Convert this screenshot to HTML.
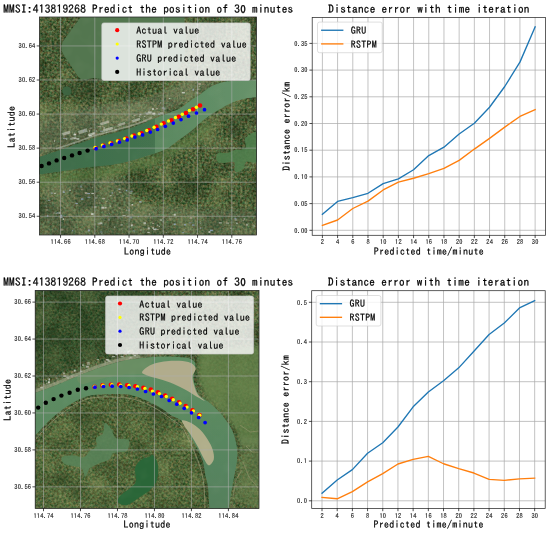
<!DOCTYPE html>
<html lang="en"><head><meta charset="utf-8"><title>Trajectory prediction</title>
<style>html,body{margin:0;padding:0;background:#fff}svg{display:block}text{font-family:IPAGothic, 'Noto Sans Mono CJK SC', 'Liberation Mono', monospace;}</style>
</head><body>
<svg width="550" height="535" viewBox="0 0 550 535">
<defs>
<filter id="land" x="0" y="0" width="100%" height="100%" color-interpolation-filters="sRGB">
<feTurbulence type="fractalNoise" baseFrequency="0.42" numOctaves="2" seed="3"/>
<feColorMatrix type="matrix" values="0.5 0.3 0 0 -0.1  0.5 -0.05 0 0 0.145  0.4 0 0.1 0 -0.035  0 0 0 0 1"/>
</filter>
<filter id="land2" x="0" y="0" width="100%" height="100%" color-interpolation-filters="sRGB">
<feTurbulence type="fractalNoise" baseFrequency="0.42" numOctaves="2" seed="21"/>
<feColorMatrix type="matrix" values="0.5 0.3 0 0 -0.1  0.5 -0.05 0 0 0.145  0.4 0 0.1 0 -0.035  0 0 0 0 1"/>
</filter>
<filter id="lfd" x="0" y="0" width="100%" height="100%" color-interpolation-filters="sRGB">
<feTurbulence type="fractalNoise" baseFrequency="0.04" numOctaves="2" seed="9"/>
<feColorMatrix type="matrix" values="0 0 0 0 0.05  0 0 0 0 0.12  0 0 0 0 0.04  2.2 0 0 0 -1.1"/>
</filter>
<filter id="lfl" x="0" y="0" width="100%" height="100%" color-interpolation-filters="sRGB">
<feTurbulence type="fractalNoise" baseFrequency="0.04" numOctaves="2" seed="9"/>
<feColorMatrix type="matrix" values="0 0 0 0 0.62  0 0 0 0 0.66  0 0 0 0 0.42  -2.2 0 0 0 1.1"/>
</filter>
<filter id="wn" x="0" y="0" width="100%" height="100%" color-interpolation-filters="sRGB">
<feTurbulence type="fractalNoise" baseFrequency="0.08" numOctaves="2" seed="5"/>
<feColorMatrix type="matrix" values="0 0 0 0 1  0 0 0 0 1  0 0 0 0 0.9  1.2 0 0 0 -0.5"/>
</filter>
<filter id="b05"><feGaussianBlur stdDeviation="0.5"/></filter>
<filter id="b1"><feGaussianBlur stdDeviation="1"/></filter>
<filter id="b2"><feGaussianBlur stdDeviation="2.2"/></filter>
<filter id="b4"><feGaussianBlur stdDeviation="4"/></filter>
<linearGradient id="rv1" gradientUnits="userSpaceOnUse" x1="40" y1="0" x2="256" y2="0">
<stop offset="0" stop-color="#3e6c4a"/><stop offset="0.53" stop-color="#44734f"/><stop offset="0.534" stop-color="#5a8860"/><stop offset="1" stop-color="#67926a"/>
</linearGradient>
<linearGradient id="rv2" gradientUnits="userSpaceOnUse" x1="0" y1="355" x2="0" y2="508"><stop offset="0" stop-color="#5f8f64"/><stop offset="1" stop-color="#54805c"/></linearGradient>

<clipPath id="c1"><rect x="39.5" y="17" width="217" height="218"/></clipPath>
<clipPath id="c2"><rect x="35.2" y="290.4" width="223.8" height="218"/></clipPath>
</defs>
<rect width="550" height="535" fill="#fff"/>
<g clip-path="url(#c1)">
<rect x="39.5" y="17" width="217" height="218" fill="#445a34"/>
<rect x="39.5" y="17" width="217" height="218" filter="url(#land)"/>
<rect x="39.5" y="17" width="217" height="218" filter="url(#lfd)" opacity="0.55"/>
<rect x="39.5" y="17" width="217" height="218" filter="url(#lfl)" opacity="0.5"/>
<g filter="url(#b2)">
<polygon points="36.0,120.0 90.0,106.0 150.0,98.0 195.0,76.0 218.0,84.0 150.0,122.0 93.0,138.0 36.0,158.0" fill="#8c927a" opacity="0.3"/>
<polygon points="45.0,182.0 125.0,178.0 135.0,205.0 256.0,210.0 256.0,236.0 36.0,236.0" fill="#7d8570" opacity="0.25"/>
<polygon points="36.0,176.0 90.0,168.0 130.0,162.0 150.0,156.0 190.0,134.0 205.0,121.0 214.0,126.0 192.0,146.0 150.0,168.0 93.0,180.0 36.0,187.0" fill="#5f8448" opacity="0.5"/>
</g>
<g filter="url(#b05)">
<polygon points="83.0,14.0 62.9,41.5 61.4,46.0 61.6,51.0 65.0,57.0 68.8,62.3 74.0,70.5 78.1,76.7 81.0,79.0 85.3,79.8 93.5,77.9 99.7,78.7 125.0,82.0 160.0,80.0 176.0,72.0 184.0,58.0 186.0,40.0 184.0,14.0" fill="#527650" />
<circle cx="66.8" cy="91" r="4.6" fill="#3c6440"/>
<path d="M246.4,137.0C248.6,135.7 256.1,129.1 258.0,133.0C259.9,136.9 259.9,155.7 258.0,160.5C256.1,165.3 248.8,160.5 246.4,161.8C244.0,163.1 245.3,166.7 243.8,168.4C242.3,170.2 238.7,172.1 237.2,172.3C235.7,172.5 235.0,171.2 234.6,169.7C234.2,168.2 235.2,164.4 234.6,163.1C233.9,161.8 232.4,161.8 230.7,161.8C228.9,161.8 226.3,163.1 224.1,163.1C221.9,163.1 218.9,162.9 217.6,161.8C216.3,160.7 216.1,158.1 216.3,156.6C216.5,155.1 216.9,153.3 218.9,152.7C220.9,152.0 225.5,153.1 228.1,152.7C230.7,152.3 232.4,150.6 234.6,150.1C236.8,149.6 239.2,149.8 241.1,149.4C242.9,149.0 245.0,148.9 245.7,147.5C246.4,146.1 245.0,142.7 245.1,140.9C245.2,139.2 244.2,138.3 246.4,137.0Z" fill="#50804e" opacity="0.88"/>
<path d="M36.0,158.2C40.0,156.8 50.4,153.3 60.0,150.0C69.6,146.7 83.5,141.5 93.5,138.4C103.5,135.3 112.3,133.7 120.0,131.5C127.7,129.3 133.6,127.2 139.4,125.1C145.2,122.9 149.6,120.7 154.7,118.6C159.8,116.5 165.8,114.2 170.0,112.5C174.2,110.8 176.7,110.2 180.0,108.3C183.3,106.4 186.7,103.3 190.0,101.0C193.3,98.7 197.3,96.3 200.0,94.5C202.7,92.7 203.8,91.5 206.0,90.0C208.2,88.5 210.8,86.6 213.5,85.3C216.2,84.0 218.8,83.0 222.4,82.2C226.0,81.5 228.7,81.2 235.0,80.8C241.3,80.4 255.8,80.1 260.0,80.0L260,96.8" fill="none"/>
<path d="M36.0,158.2C40.0,156.8 50.4,153.3 60.0,150.0C69.6,146.7 83.5,141.5 93.5,138.4C103.5,135.3 112.3,133.7 120.0,131.5C127.7,129.3 133.6,127.2 139.4,125.1C145.2,122.9 149.6,120.7 154.7,118.6C159.8,116.5 165.8,114.2 170.0,112.5C174.2,110.8 176.7,110.2 180.0,108.3C183.3,106.4 186.7,103.3 190.0,101.0C193.3,98.7 197.3,96.3 200.0,94.5C202.7,92.7 203.8,91.5 206.0,90.0C208.2,88.5 210.8,86.6 213.5,85.3C216.2,84.0 218.8,83.0 222.4,82.2C226.0,81.5 228.7,81.2 235.0,80.8C241.3,80.4 255.8,80.1 260.0,80.0L260.0,96.8C257.5,97.1 249.4,97.8 245.0,98.7C240.6,99.6 237.4,100.5 233.6,102.1C229.8,103.6 225.7,105.9 222.0,108.0C218.3,110.1 214.9,112.0 211.2,114.5C207.5,117.0 203.2,120.2 200.0,122.9C196.8,125.6 195.2,127.7 191.8,130.4C188.4,133.1 183.4,136.6 179.8,139.3C176.2,142.0 172.8,144.8 170.0,146.7C167.2,148.5 166.3,148.9 162.7,150.4C159.1,151.9 153.8,153.7 148.2,155.5C142.6,157.3 135.4,159.7 129.3,161.3C123.2,162.9 118.3,163.9 111.8,164.9C105.2,165.9 98.6,166.0 90.0,167.1C81.4,168.2 69.0,170.2 60.0,171.5C51.0,172.8 40.0,174.4 36.0,175.0Z" fill="url(#rv1)"/>
</g>
<path d="M56.0,148.8C59.2,147.8 68.8,144.6 75.0,142.5C81.2,140.4 87.7,137.8 93.5,136.0C99.3,134.2 104.8,132.9 110.0,131.5C115.2,130.1 120.0,128.9 125.0,127.5C130.0,126.0 135.5,124.5 140.0,122.8C144.5,121.1 150.0,118.5 152.0,117.6" fill="none" stroke="#b4b8a8" stroke-width="1.7" opacity="0.55"/>
<rect x="62" y="133" width="8" height="3" fill="#cfd2c8" opacity="0.6" transform="rotate(-17 62 133)"/>
<rect x="78" y="131" width="9" height="3.5" fill="#c2c6ba" opacity="0.6" transform="rotate(-17 78 131)"/>
<rect x="88" y="134" width="7" height="2.5" fill="#d9dbd2" opacity="0.6" transform="rotate(-17 88 134)"/>
<rect x="100" y="123" width="9" height="2.5" fill="#c9ccc0" opacity="0.6" transform="rotate(-17 100 123)"/>
<rect x="103" y="129.5" width="10" height="2.5" fill="#d2d5ca" opacity="0.6" transform="rotate(-17 103 129.5)"/>
<rect x="118" y="124" width="7" height="2.5" fill="#c4c8bc" opacity="0.6" transform="rotate(-17 118 124)"/>
<rect x="132" y="120" width="8" height="2.5" fill="#cdd0c4" opacity="0.6" transform="rotate(-17 132 120)"/>
<rect x="70" y="138" width="6" height="2" fill="#b7bbb0" opacity="0.6" transform="rotate(-17 70 138)"/>
<rect x="146" y="113" width="6" height="2" fill="#c4c8bc" opacity="0.6" transform="rotate(-17 146 113)"/>
<rect x="144.7" y="112.5" width="3" height="1" fill="#9aa6b4" opacity="0.55"/>
<rect x="148.8" y="109.2" width="1" height="1.5" fill="#9aa6b4" opacity="0.55"/>
<rect x="105.9" y="131.8" width="1.5" height="1" fill="#b9bdb0" opacity="0.7"/>
<rect x="89.7" y="127.6" width="2.5" height="1" fill="#c9cdc4" opacity="0.55"/>
<rect x="143.9" y="116.0" width="1.5" height="1" fill="#c9cdc4" opacity="0.55"/>
<rect x="168.8" y="98.1" width="1.5" height="1" fill="#d8d9d2" opacity="0.7"/>
<rect x="198.8" y="85.8" width="1.5" height="1" fill="#b9bdb0" opacity="0.7"/>
<rect x="92.8" y="132.7" width="1.5" height="1" fill="#d8d9d2" opacity="0.55"/>
<rect x="98.1" y="126.1" width="3" height="1" fill="#a89f8c" opacity="0.85"/>
<rect x="158.2" y="113.4" width="2" height="1.5" fill="#9aa6b4" opacity="0.85"/>
<rect x="95.5" y="130.5" width="1.5" height="1" fill="#d8d9d2" opacity="0.55"/>
<rect x="196.9" y="88.9" width="2.5" height="1" fill="#a89f8c" opacity="0.7"/>
<rect x="103.6" y="127.2" width="1" height="2" fill="#c9cdc4" opacity="0.85"/>
<rect x="73.9" y="132.7" width="1.5" height="1" fill="#b9bdb0" opacity="0.7"/>
<rect x="100.1" y="130.7" width="3" height="1.5" fill="#9aa6b4" opacity="0.55"/>
<rect x="139.4" y="113.8" width="2" height="1.5" fill="#c9cdc4" opacity="0.7"/>
<rect x="196.3" y="92.2" width="2" height="1.5" fill="#b9bdb0" opacity="0.7"/>
<rect x="89.1" y="130.2" width="1" height="1.5" fill="#d8d9d2" opacity="0.7"/>
<rect x="73.4" y="142.5" width="1.5" height="1.5" fill="#9aa6b4" opacity="0.55"/>
<rect x="160.2" y="112.2" width="3" height="2" fill="#c9cdc4" opacity="0.55"/>
<rect x="163.5" y="107.6" width="2" height="2" fill="#9aa6b4" opacity="0.55"/>
<rect x="53.9" y="140.0" width="1" height="2" fill="#d8d9d2" opacity="0.55"/>
<rect x="65.9" y="137.9" width="1.5" height="2" fill="#c9cdc4" opacity="0.55"/>
<rect x="114.5" y="128.9" width="2.5" height="1.5" fill="#b9bdb0" opacity="0.7"/>
<rect x="192.5" y="88.7" width="1.5" height="2" fill="#9aa6b4" opacity="0.85"/>
<rect x="161.7" y="107.1" width="2" height="2" fill="#9aa6b4" opacity="0.55"/>
<rect x="63.0" y="137.9" width="3" height="1" fill="#9aa6b4" opacity="0.7"/>
<rect x="73.8" y="137.8" width="3" height="1.5" fill="#c9cdc4" opacity="0.7"/>
<rect x="156.1" y="107.9" width="2" height="1.5" fill="#a89f8c" opacity="0.85"/>
<rect x="151.9" y="108.3" width="2" height="1.5" fill="#d8d9d2" opacity="0.85"/>
<rect x="73.6" y="133.9" width="2.5" height="1.5" fill="#d8d9d2" opacity="0.85"/>
<rect x="88.8" y="134.9" width="3" height="1.5" fill="#d8d9d2" opacity="0.7"/>
<rect x="148.1" y="111.4" width="2.5" height="1.5" fill="#b9bdb0" opacity="0.85"/>
<rect x="117.0" y="125.8" width="2" height="1" fill="#a89f8c" opacity="0.55"/>
<rect x="76.8" y="138.2" width="2.5" height="1.5" fill="#c9cdc4" opacity="0.85"/>
<rect x="152.3" y="112.6" width="3" height="2" fill="#d8d9d2" opacity="0.85"/>
<rect x="133.5" y="114.9" width="2" height="1" fill="#b9bdb0" opacity="0.55"/>
<rect x="138.8" y="115.7" width="1.5" height="1" fill="#b9bdb0" opacity="0.85"/>
<rect x="160.0" y="102.4" width="1.5" height="1" fill="#c9cdc4" opacity="0.55"/>
<rect x="62.7" y="136.4" width="2.5" height="1" fill="#a89f8c" opacity="0.55"/>
<rect x="111.5" y="127.5" width="3" height="1" fill="#a89f8c" opacity="0.55"/>
<rect x="83.1" y="130.1" width="1" height="1.5" fill="#9aa6b4" opacity="0.7"/>
<rect x="181.9" y="91.9" width="3" height="1.5" fill="#c9cdc4" opacity="0.85"/>
<rect x="143.2" y="120.1" width="3" height="1.5" fill="#a89f8c" opacity="0.7"/>
<rect x="198.3" y="83.0" width="2.5" height="2" fill="#a89f8c" opacity="0.85"/>
<rect x="120.4" y="224.1" width="2.5" height="1.5" fill="#b9bdb0" opacity="0.55"/>
<rect x="58.8" y="212.3" width="2" height="1.5" fill="#b9bdb0" opacity="0.7"/>
<rect x="91.4" y="192.9" width="2.5" height="1" fill="#c9cdc4" opacity="0.85"/>
<rect x="97.6" y="223.3" width="2" height="1" fill="#9aa6b4" opacity="0.7"/>
<rect x="139.1" y="201.1" width="2.5" height="1.5" fill="#9aa6b4" opacity="0.85"/>
<rect x="53.9" y="192.9" width="2" height="1" fill="#b9bdb0" opacity="0.85"/>
<rect x="130.8" y="224.4" width="2" height="2" fill="#c9cdc4" opacity="0.85"/>
<rect x="99.7" y="231.5" width="3" height="1" fill="#8fa3bd" opacity="0.55"/>
<rect x="102.2" y="198.2" width="3" height="1" fill="#b9bdb0" opacity="0.85"/>
<rect x="128.6" y="209.3" width="1" height="1.5" fill="#8fa3bd" opacity="0.85"/>
<rect x="63.6" y="207.2" width="1.5" height="1" fill="#a89f8c" opacity="0.55"/>
<rect x="62.9" y="191.5" width="2" height="1.5" fill="#8fa3bd" opacity="0.7"/>
<rect x="95.1" y="197.5" width="2.5" height="1" fill="#c9cdc4" opacity="0.7"/>
<rect x="101.4" y="232.9" width="1" height="2" fill="#c9cdc4" opacity="0.55"/>
<rect x="129.8" y="216.5" width="2.5" height="2" fill="#9aa6b4" opacity="0.55"/>
<rect x="94.1" y="206.5" width="2.5" height="1" fill="#c9cdc4" opacity="0.85"/>
<rect x="109.6" y="205.6" width="1.5" height="1" fill="#b9bdb0" opacity="0.85"/>
<rect x="56.7" y="212.5" width="2" height="1" fill="#8fa3bd" opacity="0.85"/>
<rect x="87.9" y="229.4" width="2" height="2" fill="#9aa6b4" opacity="0.85"/>
<rect x="91.1" y="213.1" width="2.5" height="2" fill="#c9cdc4" opacity="0.85"/>
<rect x="80.9" y="198.3" width="2.5" height="1.5" fill="#8fa3bd" opacity="0.85"/>
<rect x="60.5" y="228.7" width="3" height="2" fill="#a89f8c" opacity="0.7"/>
<rect x="75.4" y="202.9" width="2.5" height="1" fill="#8fa3bd" opacity="0.85"/>
<rect x="45.6" y="205.5" width="1" height="1" fill="#b9bdb0" opacity="0.85"/>
<rect x="118.5" y="188.6" width="2" height="1.5" fill="#9aa6b4" opacity="0.85"/>
<rect x="50.9" y="192.6" width="2" height="1" fill="#9aa6b4" opacity="0.85"/>
<rect x="91.7" y="206.4" width="1" height="1.5" fill="#8fa3bd" opacity="0.55"/>
<rect x="109.7" y="195.2" width="2" height="1" fill="#b9bdb0" opacity="0.85"/>
<rect x="108.5" y="218.7" width="1" height="2" fill="#9aa6b4" opacity="0.85"/>
<rect x="130.5" y="214.5" width="3" height="1" fill="#a89f8c" opacity="0.55"/>
<rect x="60.3" y="214.6" width="2" height="2" fill="#9aa6b4" opacity="0.85"/>
<rect x="46.9" y="214.9" width="1.5" height="2" fill="#9aa6b4" opacity="0.7"/>
<rect x="87.5" y="196.8" width="3" height="1" fill="#8fa3bd" opacity="0.7"/>
<rect x="72.2" y="230.0" width="1" height="1.5" fill="#8fa3bd" opacity="0.7"/>
<rect x="136.8" y="204.5" width="2" height="1" fill="#b9bdb0" opacity="0.55"/>
<rect x="122.6" y="214.9" width="3" height="1" fill="#c9cdc4" opacity="0.7"/>
<rect x="80.2" y="185.6" width="1.5" height="2" fill="#8fa3bd" opacity="0.55"/>
<rect x="60.0" y="216.8" width="2.5" height="1" fill="#9aa6b4" opacity="0.85"/>
<rect x="92.0" y="186.8" width="1" height="1.5" fill="#a89f8c" opacity="0.55"/>
<rect x="62.6" y="218.4" width="1.5" height="1.5" fill="#c9cdc4" opacity="0.85"/>
<rect x="99.0" y="202.4" width="1.5" height="1" fill="#a89f8c" opacity="0.85"/>
<rect x="131.5" y="204.0" width="1.5" height="1.5" fill="#c9cdc4" opacity="0.85"/>
<rect x="99.4" y="222.3" width="3" height="2" fill="#c9cdc4" opacity="0.7"/>
<rect x="126.2" y="209.3" width="1" height="2" fill="#a89f8c" opacity="0.85"/>
<rect x="125.8" y="189.8" width="1.5" height="1.5" fill="#8fa3bd" opacity="0.85"/>
<rect x="62.6" y="190.5" width="1.5" height="2" fill="#b9bdb0" opacity="0.55"/>
<rect x="46.2" y="206.6" width="1" height="1" fill="#a89f8c" opacity="0.55"/>
<rect x="109.0" y="212.8" width="1" height="1" fill="#9aa6b4" opacity="0.55"/>
<rect x="117.5" y="217.4" width="2" height="1" fill="#9aa6b4" opacity="0.55"/>
<rect x="113.8" y="226.2" width="1.5" height="2" fill="#b9bdb0" opacity="0.55"/>
<rect x="111.7" y="191.9" width="1" height="2" fill="#8fa3bd" opacity="0.7"/>
<rect x="87.1" y="193.1" width="3" height="1" fill="#8fa3bd" opacity="0.85"/>
<rect x="46.2" y="209.4" width="2" height="1" fill="#a89f8c" opacity="0.85"/>
<rect x="106.3" y="201.1" width="1" height="1" fill="#b9bdb0" opacity="0.7"/>
<rect x="132.5" y="230.4" width="2.5" height="1" fill="#8fa3bd" opacity="0.55"/>
<rect x="47.9" y="199.8" width="2.5" height="1" fill="#9aa6b4" opacity="0.7"/>
<rect x="53.3" y="212.5" width="2" height="1" fill="#c9cdc4" opacity="0.55"/>
<rect x="84.8" y="192.1" width="2.5" height="2" fill="#a89f8c" opacity="0.85"/>
<rect x="104.6" y="207.0" width="2" height="1.5" fill="#c9cdc4" opacity="0.7"/>
<rect x="129.4" y="192.6" width="2.5" height="1" fill="#c9cdc4" opacity="0.85"/>
<rect x="55.3" y="229.4" width="1" height="1" fill="#b9bdb0" opacity="0.55"/>
<rect x="101.3" y="206.7" width="3" height="2" fill="#c9cdc4" opacity="0.85"/>
<rect x="130.4" y="190.7" width="2.5" height="1" fill="#8fa3bd" opacity="0.7"/>
<rect x="68.9" y="189.6" width="2" height="1.5" fill="#c9cdc4" opacity="0.55"/>
<rect x="119.1" y="191.8" width="2.5" height="1" fill="#b9bdb0" opacity="0.55"/>
<rect x="81.1" y="189.3" width="1.5" height="1" fill="#a89f8c" opacity="0.85"/>
<rect x="118.8" y="207.4" width="2" height="1.5" fill="#a89f8c" opacity="0.7"/>
<rect x="127.4" y="215.5" width="1" height="1.5" fill="#c9cdc4" opacity="0.55"/>
<rect x="55.4" y="213.2" width="1.5" height="1" fill="#b9bdb0" opacity="0.55"/>
<rect x="138.1" y="216.2" width="1" height="1" fill="#8fa3bd" opacity="0.7"/>
<rect x="165.8" y="232.2" width="1.5" height="1" fill="#b9bdb0" opacity="0.55"/>
<rect x="155.6" y="229.0" width="3" height="1" fill="#a89f8c" opacity="0.85"/>
<rect x="143.5" y="222.2" width="2.5" height="2" fill="#c9cdc4" opacity="0.7"/>
<rect x="150.2" y="216.9" width="1" height="1.5" fill="#a89f8c" opacity="0.7"/>
<rect x="242.8" y="220.0" width="1" height="1.5" fill="#b9bdb0" opacity="0.55"/>
<rect x="184.0" y="229.4" width="1" height="1" fill="#8fa3bd" opacity="0.55"/>
<rect x="218.8" y="222.4" width="3" height="1" fill="#c9cdc4" opacity="0.85"/>
<rect x="147.3" y="231.9" width="2.5" height="1" fill="#c9cdc4" opacity="0.85"/>
<rect x="192.0" y="224.3" width="2.5" height="1.5" fill="#8fa3bd" opacity="0.7"/>
<rect x="155.4" y="228.1" width="1" height="1.5" fill="#8fa3bd" opacity="0.85"/>
<rect x="236.2" y="222.6" width="1.5" height="1.5" fill="#c9cdc4" opacity="0.7"/>
<rect x="200.3" y="222.7" width="1" height="1" fill="#8fa3bd" opacity="0.55"/>
<rect x="243.5" y="218.2" width="1.5" height="1.5" fill="#b9bdb0" opacity="0.7"/>
<rect x="169.0" y="218.3" width="2.5" height="1" fill="#a89f8c" opacity="0.55"/>
<rect x="158.9" y="225.9" width="1" height="1" fill="#c9cdc4" opacity="0.7"/>
<rect x="153.3" y="228.7" width="2.5" height="1.5" fill="#c9cdc4" opacity="0.85"/>
<rect x="189.7" y="216.9" width="2.5" height="2" fill="#a89f8c" opacity="0.7"/>
<rect x="149.1" y="213.5" width="1" height="1" fill="#b9bdb0" opacity="0.85"/>
<rect x="152.1" y="222.9" width="2" height="1" fill="#a89f8c" opacity="0.85"/>
<rect x="156.9" y="224.7" width="1.5" height="1" fill="#c9cdc4" opacity="0.7"/>
<rect x="184.0" y="224.0" width="2" height="1.5" fill="#8fa3bd" opacity="0.7"/>
<rect x="140.3" y="229.5" width="1.5" height="1" fill="#b9bdb0" opacity="0.85"/>
<rect x="159.6" y="219.1" width="2.5" height="2" fill="#b9bdb0" opacity="0.55"/>
<rect x="162.9" y="216.7" width="2.5" height="1" fill="#a89f8c" opacity="0.55"/>
<rect x="152.4" y="227.1" width="1.5" height="2" fill="#b9bdb0" opacity="0.85"/>
<rect x="245.9" y="223.8" width="2" height="2" fill="#c9cdc4" opacity="0.55"/>
<rect x="162.5" y="221.4" width="1" height="1" fill="#b9bdb0" opacity="0.85"/>
<rect x="208.5" y="231.0" width="2" height="2" fill="#b9bdb0" opacity="0.85"/>
<rect x="226.1" y="222.6" width="3" height="1" fill="#c9cdc4" opacity="0.7"/>
<rect x="199.9" y="227.6" width="1.5" height="1" fill="#8fa3bd" opacity="0.85"/>
<rect x="173.8" y="213.7" width="2" height="2" fill="#c9cdc4" opacity="0.85"/>
<rect x="173.8" y="223.5" width="2" height="1.5" fill="#8fa3bd" opacity="0.85"/>
<rect x="234.8" y="219.5" width="2" height="1" fill="#c9cdc4" opacity="0.7"/>
<rect x="182.2" y="232.1" width="2" height="1" fill="#8fa3bd" opacity="0.7"/>
<rect x="209.9" y="229.7" width="3" height="1.5" fill="#8fa3bd" opacity="0.85"/>
<rect x="188.7" y="222.3" width="3" height="1" fill="#8fa3bd" opacity="0.55"/>
<rect x="147.8" y="227.4" width="2" height="2" fill="#b9bdb0" opacity="0.85"/>
<rect x="234.5" y="217.8" width="2" height="1.5" fill="#8fa3bd" opacity="0.7"/>
<rect x="253.5" y="225.3" width="1.5" height="1.5" fill="#c9cdc4" opacity="0.55"/>
<rect x="230.1" y="227.7" width="1.5" height="1" fill="#c9cdc4" opacity="0.7"/>
<rect x="39.5" y="17" width="217" height="218" filter="url(#wn)" opacity="0.06"/>
</g>
<path d="M60.56,17V235M39.5,45.93H256.5M94.81,17V235M39.5,80.00H256.5M129.06,17V235M39.5,114.07H256.5M163.31,17V235M39.5,148.14H256.5M197.56,17V235M39.5,182.21H256.5M231.81,17V235M39.5,216.28H256.5" stroke="#b0b0b0" stroke-width="0.8" stroke-opacity="0.68" fill="none"/>
<g clip-path="url(#c1)">
<circle cx="41.6" cy="166.0" r="2.2" fill="#000"/>
<circle cx="49.0" cy="163.4" r="2.2" fill="#000"/>
<circle cx="56.6" cy="160.4" r="2.2" fill="#000"/>
<circle cx="64.2" cy="158.0" r="2.2" fill="#000"/>
<circle cx="72.0" cy="155.4" r="2.2" fill="#000"/>
<circle cx="79.6" cy="153.0" r="2.2" fill="#000"/>
<circle cx="87.6" cy="150.6" r="2.2" fill="#000"/>
<circle cx="95.6" cy="148.0" r="2.3" fill="#f00"/>
<circle cx="103.3" cy="145.5" r="2.3" fill="#f00"/>
<circle cx="110.9" cy="143.3" r="2.3" fill="#f00"/>
<circle cx="118.6" cy="141.0" r="2.3" fill="#f00"/>
<circle cx="126.3" cy="138.5" r="2.3" fill="#f00"/>
<circle cx="133.9" cy="135.6" r="2.3" fill="#f00"/>
<circle cx="141.4" cy="133.2" r="2.3" fill="#f00"/>
<circle cx="149.0" cy="130.3" r="2.3" fill="#f00"/>
<circle cx="156.4" cy="126.9" r="2.3" fill="#f00"/>
<circle cx="163.6" cy="123.3" r="2.3" fill="#f00"/>
<circle cx="171.4" cy="120.3" r="2.3" fill="#f00"/>
<circle cx="178.7" cy="116.7" r="2.3" fill="#f00"/>
<circle cx="185.9" cy="113.0" r="2.3" fill="#f00"/>
<circle cx="193.1" cy="109.2" r="2.3" fill="#f00"/>
<circle cx="200.0" cy="105.5" r="2.3" fill="#f00"/>
<circle cx="95.1" cy="147.4" r="1.7" fill="#ff0"/>
<circle cx="102.4" cy="145.1" r="1.7" fill="#ff0"/>
<circle cx="110.0" cy="142.9" r="1.7" fill="#ff0"/>
<circle cx="117.4" cy="141.0" r="1.7" fill="#ff0"/>
<circle cx="124.6" cy="138.6" r="1.7" fill="#ff0"/>
<circle cx="131.9" cy="136.0" r="1.7" fill="#ff0"/>
<circle cx="139.2" cy="133.8" r="1.7" fill="#ff0"/>
<circle cx="146.8" cy="130.5" r="1.7" fill="#ff0"/>
<circle cx="154.1" cy="127.3" r="1.7" fill="#ff0"/>
<circle cx="161.3" cy="124.1" r="1.7" fill="#ff0"/>
<circle cx="168.5" cy="121.0" r="1.7" fill="#ff0"/>
<circle cx="175.5" cy="117.5" r="1.7" fill="#ff0"/>
<circle cx="182.3" cy="114.2" r="1.7" fill="#ff0"/>
<circle cx="189.4" cy="110.5" r="1.7" fill="#ff0"/>
<circle cx="196.4" cy="107.2" r="1.7" fill="#ff0"/>
<circle cx="96.1" cy="148.7" r="1.85" fill="#00f"/>
<circle cx="103.9" cy="146.4" r="1.85" fill="#00f"/>
<circle cx="111.6" cy="144.3" r="1.85" fill="#00f"/>
<circle cx="119.4" cy="142.2" r="1.85" fill="#00f"/>
<circle cx="127.2" cy="139.9" r="1.85" fill="#00f"/>
<circle cx="134.9" cy="137.1" r="1.85" fill="#00f"/>
<circle cx="142.6" cy="134.9" r="1.85" fill="#00f"/>
<circle cx="150.3" cy="132.1" r="1.85" fill="#00f"/>
<circle cx="157.6" cy="129.5" r="1.85" fill="#00f"/>
<circle cx="165.3" cy="126.3" r="1.85" fill="#00f"/>
<circle cx="173.3" cy="123.1" r="1.85" fill="#00f"/>
<circle cx="181.0" cy="119.6" r="1.85" fill="#00f"/>
<circle cx="188.5" cy="116.2" r="1.85" fill="#00f"/>
<circle cx="196.5" cy="113.0" r="1.85" fill="#00f"/>
<circle cx="204.5" cy="109.7" r="1.85" fill="#00f"/>
</g>
<rect x="39.5" y="17" width="217" height="218" fill="none" stroke="#2a2a2a" stroke-width="0.75"/>
<rect x="101.8" y="22.9" width="148.4" height="57.5" rx="2" fill="#fff" fill-opacity="0.8" stroke="#ccc" stroke-opacity="0.8" stroke-width="0.8"/>
<circle cx="117.2" cy="30.2" r="2.1" fill="#f00"/>
<text x="138.64 143.92 149.20 154.48 159.76 165.04 170.32 175.60 180.88 186.16 191.44 196.72" y="34.20" font-size="9.98" text-anchor="middle" fill="#000" stroke="#000" stroke-width="0.2" >Actual value</text>
<circle cx="117.2" cy="44" r="1.6" fill="#ff0"/>
<text x="138.64 143.92 149.20 154.48 159.76 165.04 170.32 175.60 180.88 186.16 191.44 196.72 202.00 207.28 212.56 217.84 223.12 228.40 233.68 238.96 244.24" y="48.00" font-size="9.98" text-anchor="middle" fill="#000" stroke="#000" stroke-width="0.2" >RSTPM predicted value</text>
<circle cx="117.2" cy="58.1" r="1.6" fill="#00f"/>
<text x="138.64 143.92 149.20 154.48 159.76 165.04 170.32 175.60 180.88 186.16 191.44 196.72 202.00 207.28 212.56 217.84 223.12 228.40 233.68" y="62.10" font-size="9.98" text-anchor="middle" fill="#000" stroke="#000" stroke-width="0.2" >GRU predicted value</text>
<circle cx="117.2" cy="71.9" r="2.1" fill="#000"/>
<text x="138.64 143.92 149.20 154.48 159.76 165.04 170.32 175.60 180.88 186.16 191.44 196.72 202.00 207.28 212.56 217.84" y="75.90" font-size="9.98" text-anchor="middle" fill="#000" stroke="#000" stroke-width="0.2" >Historical value</text>
<path d="M60.56,235v2.8M39.5,45.93h-2.8M94.81,235v2.8M39.5,80.00h-2.8M129.06,235v2.8M39.5,114.07h-2.8M163.31,235v2.8M39.5,148.14h-2.8M197.56,235v2.8M39.5,182.21h-2.8M231.81,235v2.8M39.5,216.28h-2.8" stroke="#000" stroke-width="0.7" fill="none"/>
<text x="52.12 55.50 58.87 62.25 65.62 69.00" y="244.30" font-size="6.38" text-anchor="middle" fill="#111" stroke="#111" stroke-width="0.1" >114.66</text>
<text x="86.37 89.75 93.12 96.50 99.87 103.25" y="244.30" font-size="6.38" text-anchor="middle" fill="#111" stroke="#111" stroke-width="0.1" >114.68</text>
<text x="120.62 124.00 127.37 130.75 134.12 137.50" y="244.30" font-size="6.38" text-anchor="middle" fill="#111" stroke="#111" stroke-width="0.1" >114.7<tspan font-family="Noto Sans Mono CJK SC, Liberation Sans, sans-serif" font-size="6.38">0</tspan></text>
<text x="154.87 158.25 161.62 165.00 168.37 171.75" y="244.30" font-size="6.38" text-anchor="middle" fill="#111" stroke="#111" stroke-width="0.1" >114.72</text>
<text x="189.12 192.50 195.87 199.25 202.62 206.00" y="244.30" font-size="6.38" text-anchor="middle" fill="#111" stroke="#111" stroke-width="0.1" >114.74</text>
<text x="223.37 226.75 230.12 233.50 236.87 240.25" y="244.30" font-size="6.38" text-anchor="middle" fill="#111" stroke="#111" stroke-width="0.1" >114.76</text>
<text x="20.21 23.59 26.96 30.34 33.71" y="48.13" font-size="6.38" text-anchor="middle" fill="#111" stroke="#111" stroke-width="0.1" >3<tspan font-family="Noto Sans Mono CJK SC, Liberation Sans, sans-serif" font-size="6.38">0</tspan>.64</text>
<text x="20.21 23.59 26.96 30.34 33.71" y="82.20" font-size="6.38" text-anchor="middle" fill="#111" stroke="#111" stroke-width="0.1" >3<tspan font-family="Noto Sans Mono CJK SC, Liberation Sans, sans-serif" font-size="6.38">0</tspan>.62</text>
<text x="20.21 23.59 26.96 30.34 33.71" y="116.27" font-size="6.38" text-anchor="middle" fill="#111" stroke="#111" stroke-width="0.1" >3<tspan font-family="Noto Sans Mono CJK SC, Liberation Sans, sans-serif" font-size="6.38">0</tspan>.6<tspan font-family="Noto Sans Mono CJK SC, Liberation Sans, sans-serif" font-size="6.38">0</tspan></text>
<text x="20.21 23.59 26.96 30.34 33.71" y="150.34" font-size="6.38" text-anchor="middle" fill="#111" stroke="#111" stroke-width="0.1" >3<tspan font-family="Noto Sans Mono CJK SC, Liberation Sans, sans-serif" font-size="6.38">0</tspan>.58</text>
<text x="20.21 23.59 26.96 30.34 33.71" y="184.41" font-size="6.38" text-anchor="middle" fill="#111" stroke="#111" stroke-width="0.1" >3<tspan font-family="Noto Sans Mono CJK SC, Liberation Sans, sans-serif" font-size="6.38">0</tspan>.56</text>
<text x="20.21 23.59 26.96 30.34 33.71" y="218.48" font-size="6.38" text-anchor="middle" fill="#111" stroke="#111" stroke-width="0.1" >3<tspan font-family="Noto Sans Mono CJK SC, Liberation Sans, sans-serif" font-size="6.38">0</tspan>.54</text>
<text x="126.60 131.85 137.10 142.35 147.60 152.85 158.10 163.35 168.60" y="254.80" font-size="9.92" text-anchor="middle" fill="#000" stroke="#000" stroke-width="0.2" >Longitude</text>
<text x="-18.38 -13.12 -7.88 -2.62 2.62 7.88 13.12 18.38" y="0.00" font-size="9.92" text-anchor="middle" fill="#000" stroke="#000" stroke-width="0.2" transform="translate(15.1,126.8) rotate(-90)">Latitude</text>
<text x="5.96 11.89 17.81 23.74 29.66 35.59 41.51 47.44 53.36 59.29 65.21 71.14 77.06 82.99 88.91 94.84 100.76 106.69 112.61 118.54 124.46 130.39 136.31 142.24 148.16 154.09 160.01 165.94 171.86 177.79 183.71 189.64 195.56 201.49 207.41 213.34 219.26 225.19 231.11 237.04 242.96 248.89 254.81 260.74 266.66 272.59 278.51 284.44 290.36" y="12.85" font-size="11.20" text-anchor="middle" fill="#000" stroke="#000" stroke-width="0.25" >MMSI:413819268 Predict the position of 3<tspan font-family="Noto Sans Mono CJK SC, Liberation Sans, sans-serif" font-size="11.20">0</tspan> minutes</text>
<rect x="312.2" y="17.4" width="233.3" height="217.9" fill="#fff"/>
<path d="M322.40,17.4V235.3M337.59,17.4V235.3M352.79,17.4V235.3M367.98,17.4V235.3M383.18,17.4V235.3M398.38,17.4V235.3M413.57,17.4V235.3M428.76,17.4V235.3M443.96,17.4V235.3M459.15,17.4V235.3M474.35,17.4V235.3M489.54,17.4V235.3M504.74,17.4V235.3M519.93,17.4V235.3M535.13,17.4V235.3M312.2,230.30H545.5M312.2,203.60H545.5M312.2,176.90H545.5M312.2,150.20H545.5M312.2,123.50H545.5M312.2,96.80H545.5M312.2,70.10H545.5M312.2,43.40H545.5" stroke="#a9a9a9" stroke-width="0.7" fill="none"/>
<polyline points="322.40,214.28 337.59,201.46 352.79,197.57 367.98,193.29 383.18,183.63 398.38,178.93 413.57,169.74 428.76,155.54 443.96,147.21 459.15,134.02 474.35,123.23 489.54,107.27 504.74,86.49 519.93,62.14 535.13,26.85" fill="none" stroke="#1f77b4" stroke-width="1.35" stroke-linejoin="round" stroke-linecap="square"/>
<polyline points="322.40,225.39 337.59,219.99 352.79,208.51 367.98,201.14 383.18,189.93 398.38,182.08 413.57,178.24 428.76,173.70 443.96,168.46 459.15,160.35 474.35,149.08 489.54,138.35 504.74,127.13 519.93,116.45 535.13,109.62" fill="none" stroke="#ff7f0e" stroke-width="1.35" stroke-linejoin="round" stroke-linecap="square"/>
<rect x="312.2" y="17.4" width="233.3" height="217.9" fill="none" stroke="#2a2a2a" stroke-width="0.75"/>
<text x="322.40" y="244.40" font-size="6.38" text-anchor="middle" fill="#111" stroke="#111" stroke-width="0.1" >2</text>
<text x="337.59" y="244.40" font-size="6.38" text-anchor="middle" fill="#111" stroke="#111" stroke-width="0.1" >4</text>
<text x="352.79" y="244.40" font-size="6.38" text-anchor="middle" fill="#111" stroke="#111" stroke-width="0.1" >6</text>
<text x="367.98" y="244.40" font-size="6.38" text-anchor="middle" fill="#111" stroke="#111" stroke-width="0.1" >8</text>
<text x="381.49 384.87" y="244.40" font-size="6.38" text-anchor="middle" fill="#111" stroke="#111" stroke-width="0.1" >1<tspan font-family="Noto Sans Mono CJK SC, Liberation Sans, sans-serif" font-size="6.38">0</tspan></text>
<text x="396.69 400.06" y="244.40" font-size="6.38" text-anchor="middle" fill="#111" stroke="#111" stroke-width="0.1" >12</text>
<text x="411.88 415.26" y="244.40" font-size="6.38" text-anchor="middle" fill="#111" stroke="#111" stroke-width="0.1" >14</text>
<text x="427.08 430.45" y="244.40" font-size="6.38" text-anchor="middle" fill="#111" stroke="#111" stroke-width="0.1" >16</text>
<text x="442.27 445.65" y="244.40" font-size="6.38" text-anchor="middle" fill="#111" stroke="#111" stroke-width="0.1" >18</text>
<text x="457.47 460.84" y="244.40" font-size="6.38" text-anchor="middle" fill="#111" stroke="#111" stroke-width="0.1" >2<tspan font-family="Noto Sans Mono CJK SC, Liberation Sans, sans-serif" font-size="6.38">0</tspan></text>
<text x="472.66 476.04" y="244.40" font-size="6.38" text-anchor="middle" fill="#111" stroke="#111" stroke-width="0.1" >22</text>
<text x="487.86 491.23" y="244.40" font-size="6.38" text-anchor="middle" fill="#111" stroke="#111" stroke-width="0.1" >24</text>
<text x="503.05 506.43" y="244.40" font-size="6.38" text-anchor="middle" fill="#111" stroke="#111" stroke-width="0.1" >26</text>
<text x="518.25 521.62" y="244.40" font-size="6.38" text-anchor="middle" fill="#111" stroke="#111" stroke-width="0.1" >28</text>
<text x="533.44 536.82" y="244.40" font-size="6.38" text-anchor="middle" fill="#111" stroke="#111" stroke-width="0.1" >3<tspan font-family="Noto Sans Mono CJK SC, Liberation Sans, sans-serif" font-size="6.38">0</tspan></text>
<text x="295.79 299.16 302.54 305.91" y="232.50" font-size="6.38" text-anchor="middle" fill="#111" stroke="#111" stroke-width="0.1" ><tspan font-family="Noto Sans Mono CJK SC, Liberation Sans, sans-serif" font-size="6.38">0</tspan>.<tspan font-family="Noto Sans Mono CJK SC, Liberation Sans, sans-serif" font-size="6.38">0</tspan><tspan font-family="Noto Sans Mono CJK SC, Liberation Sans, sans-serif" font-size="6.38">0</tspan></text>
<text x="295.79 299.16 302.54 305.91" y="205.80" font-size="6.38" text-anchor="middle" fill="#111" stroke="#111" stroke-width="0.1" ><tspan font-family="Noto Sans Mono CJK SC, Liberation Sans, sans-serif" font-size="6.38">0</tspan>.<tspan font-family="Noto Sans Mono CJK SC, Liberation Sans, sans-serif" font-size="6.38">0</tspan>5</text>
<text x="295.79 299.16 302.54 305.91" y="179.10" font-size="6.38" text-anchor="middle" fill="#111" stroke="#111" stroke-width="0.1" ><tspan font-family="Noto Sans Mono CJK SC, Liberation Sans, sans-serif" font-size="6.38">0</tspan>.1<tspan font-family="Noto Sans Mono CJK SC, Liberation Sans, sans-serif" font-size="6.38">0</tspan></text>
<text x="295.79 299.16 302.54 305.91" y="152.40" font-size="6.38" text-anchor="middle" fill="#111" stroke="#111" stroke-width="0.1" ><tspan font-family="Noto Sans Mono CJK SC, Liberation Sans, sans-serif" font-size="6.38">0</tspan>.15</text>
<text x="295.79 299.16 302.54 305.91" y="125.70" font-size="6.38" text-anchor="middle" fill="#111" stroke="#111" stroke-width="0.1" ><tspan font-family="Noto Sans Mono CJK SC, Liberation Sans, sans-serif" font-size="6.38">0</tspan>.2<tspan font-family="Noto Sans Mono CJK SC, Liberation Sans, sans-serif" font-size="6.38">0</tspan></text>
<text x="295.79 299.16 302.54 305.91" y="99.00" font-size="6.38" text-anchor="middle" fill="#111" stroke="#111" stroke-width="0.1" ><tspan font-family="Noto Sans Mono CJK SC, Liberation Sans, sans-serif" font-size="6.38">0</tspan>.25</text>
<text x="295.79 299.16 302.54 305.91" y="72.30" font-size="6.38" text-anchor="middle" fill="#111" stroke="#111" stroke-width="0.1" ><tspan font-family="Noto Sans Mono CJK SC, Liberation Sans, sans-serif" font-size="6.38">0</tspan>.3<tspan font-family="Noto Sans Mono CJK SC, Liberation Sans, sans-serif" font-size="6.38">0</tspan></text>
<text x="295.79 299.16 302.54 305.91" y="45.60" font-size="6.38" text-anchor="middle" fill="#111" stroke="#111" stroke-width="0.1" ><tspan font-family="Noto Sans Mono CJK SC, Liberation Sans, sans-serif" font-size="6.38">0</tspan>.35</text>
<path d="M322.40,235.3v2.8M337.59,235.3v2.8M352.79,235.3v2.8M367.98,235.3v2.8M383.18,235.3v2.8M398.38,235.3v2.8M413.57,235.3v2.8M428.76,235.3v2.8M443.96,235.3v2.8M459.15,235.3v2.8M474.35,235.3v2.8M489.54,235.3v2.8M504.74,235.3v2.8M519.93,235.3v2.8M535.13,235.3v2.8M312.2,230.30h-2.8M312.2,203.60h-2.8M312.2,176.90h-2.8M312.2,150.20h-2.8M312.2,123.50h-2.8M312.2,96.80h-2.8M312.2,70.10h-2.8M312.2,43.40h-2.8" stroke="#000" stroke-width="0.7" fill="none"/>
<rect x="317.5" y="22.1" width="64.7" height="30.6" rx="2" fill="#fff" fill-opacity="0.8" stroke="#ccc" stroke-opacity="0.8" stroke-width="0.8"/>
<path d="M321.1,30.25h22.3" stroke="#1f77b4" stroke-width="1.35"/>
<path d="M321.1,43.9h22.3" stroke="#ff7f0e" stroke-width="1.35"/>
<text x="353.30 358.50 363.70" y="33.85" font-size="9.83" text-anchor="middle" fill="#000" stroke="#000" stroke-width="0.2" >GRU</text>
<text x="353.30 358.50 363.70 368.90 374.10" y="47.50" font-size="9.83" text-anchor="middle" fill="#000" stroke="#000" stroke-width="0.2" >RSTPM</text>
<text x="331.09 337.01 342.94 348.86 354.79 360.71 366.64 372.56 378.49 384.41 390.34 396.26 402.19 408.11 414.04 419.96 425.89 431.81 437.74 443.66 449.59 455.51 461.44 467.36 473.29 479.21 485.14 491.06 496.99 502.91 508.84 514.76 520.69 526.61" y="12.85" font-size="11.20" text-anchor="middle" fill="#000" stroke="#000" stroke-width="0.25" >Distance error with time iteration</text>
<text x="376.35 381.60 386.85 392.10 397.35 402.60 407.85 413.10 418.35 423.60 428.85 434.10 439.35 444.60 449.85 455.10 460.35 465.60 470.85 476.10 481.35" y="254.70" font-size="9.92" text-anchor="middle" fill="#000" stroke="#000" stroke-width="0.2" >Predicted time/minute</text>
<text x="-42.00 -36.75 -31.50 -26.25 -21.00 -15.75 -10.50 -5.25 0.00 5.25 10.50 15.75 21.00 26.25 31.50 36.75 42.00" y="0.00" font-size="9.92" text-anchor="middle" fill="#000" stroke="#000" stroke-width="0.2" transform="translate(289.6,126.35000000000001) rotate(-90)">Distance error/km</text>
<rect x="311.7" y="290.7" width="233.50000000000006" height="217.7" fill="#fff"/>
<path d="M322.00,290.7V508.4M337.19,290.7V508.4M352.38,290.7V508.4M367.57,290.7V508.4M382.76,290.7V508.4M397.95,290.7V508.4M413.14,290.7V508.4M428.33,290.7V508.4M443.52,290.7V508.4M458.71,290.7V508.4M473.90,290.7V508.4M489.09,290.7V508.4M504.28,290.7V508.4M519.47,290.7V508.4M534.66,290.7V508.4M311.7,500.80H545.2M311.7,461.10H545.2M311.7,421.40H545.2M311.7,381.70H545.2M311.7,342.00H545.2M311.7,302.30H545.2" stroke="#a9a9a9" stroke-width="0.7" fill="none"/>
<polyline points="322.00,493.18 337.19,479.96 352.38,469.64 367.57,453.24 382.76,442.72 397.95,427.00 413.14,406.83 428.33,391.94 443.52,380.75 458.71,367.84 473.90,351.33 489.09,334.46 504.28,323.06 519.47,307.90 534.66,300.59" fill="none" stroke="#1f77b4" stroke-width="1.35" stroke-linejoin="round" stroke-linecap="square"/>
<polyline points="322.00,497.43 337.19,498.78 352.38,491.59 367.57,481.94 382.76,473.65 397.95,464.00 413.14,459.31 428.33,456.30 443.52,463.76 458.71,468.64 473.90,473.01 489.09,479.36 504.28,480.35 519.47,478.89 534.66,478.13" fill="none" stroke="#ff7f0e" stroke-width="1.35" stroke-linejoin="round" stroke-linecap="square"/>
<rect x="311.7" y="290.7" width="233.50000000000006" height="217.7" fill="none" stroke="#2a2a2a" stroke-width="0.75"/>
<text x="322.00" y="517.50" font-size="6.38" text-anchor="middle" fill="#111" stroke="#111" stroke-width="0.1" >2</text>
<text x="337.19" y="517.50" font-size="6.38" text-anchor="middle" fill="#111" stroke="#111" stroke-width="0.1" >4</text>
<text x="352.38" y="517.50" font-size="6.38" text-anchor="middle" fill="#111" stroke="#111" stroke-width="0.1" >6</text>
<text x="367.57" y="517.50" font-size="6.38" text-anchor="middle" fill="#111" stroke="#111" stroke-width="0.1" >8</text>
<text x="381.07 384.45" y="517.50" font-size="6.38" text-anchor="middle" fill="#111" stroke="#111" stroke-width="0.1" >1<tspan font-family="Noto Sans Mono CJK SC, Liberation Sans, sans-serif" font-size="6.38">0</tspan></text>
<text x="396.26 399.64" y="517.50" font-size="6.38" text-anchor="middle" fill="#111" stroke="#111" stroke-width="0.1" >12</text>
<text x="411.45 414.83" y="517.50" font-size="6.38" text-anchor="middle" fill="#111" stroke="#111" stroke-width="0.1" >14</text>
<text x="426.64 430.02" y="517.50" font-size="6.38" text-anchor="middle" fill="#111" stroke="#111" stroke-width="0.1" >16</text>
<text x="441.83 445.21" y="517.50" font-size="6.38" text-anchor="middle" fill="#111" stroke="#111" stroke-width="0.1" >18</text>
<text x="457.02 460.40" y="517.50" font-size="6.38" text-anchor="middle" fill="#111" stroke="#111" stroke-width="0.1" >2<tspan font-family="Noto Sans Mono CJK SC, Liberation Sans, sans-serif" font-size="6.38">0</tspan></text>
<text x="472.21 475.59" y="517.50" font-size="6.38" text-anchor="middle" fill="#111" stroke="#111" stroke-width="0.1" >22</text>
<text x="487.40 490.78" y="517.50" font-size="6.38" text-anchor="middle" fill="#111" stroke="#111" stroke-width="0.1" >24</text>
<text x="502.59 505.97" y="517.50" font-size="6.38" text-anchor="middle" fill="#111" stroke="#111" stroke-width="0.1" >26</text>
<text x="517.78 521.16" y="517.50" font-size="6.38" text-anchor="middle" fill="#111" stroke="#111" stroke-width="0.1" >28</text>
<text x="532.97 536.35" y="517.50" font-size="6.38" text-anchor="middle" fill="#111" stroke="#111" stroke-width="0.1" >3<tspan font-family="Noto Sans Mono CJK SC, Liberation Sans, sans-serif" font-size="6.38">0</tspan></text>
<text x="298.66 302.04 305.41" y="503.00" font-size="6.38" text-anchor="middle" fill="#111" stroke="#111" stroke-width="0.1" ><tspan font-family="Noto Sans Mono CJK SC, Liberation Sans, sans-serif" font-size="6.38">0</tspan>.<tspan font-family="Noto Sans Mono CJK SC, Liberation Sans, sans-serif" font-size="6.38">0</tspan></text>
<text x="298.66 302.04 305.41" y="463.30" font-size="6.38" text-anchor="middle" fill="#111" stroke="#111" stroke-width="0.1" ><tspan font-family="Noto Sans Mono CJK SC, Liberation Sans, sans-serif" font-size="6.38">0</tspan>.1</text>
<text x="298.66 302.04 305.41" y="423.60" font-size="6.38" text-anchor="middle" fill="#111" stroke="#111" stroke-width="0.1" ><tspan font-family="Noto Sans Mono CJK SC, Liberation Sans, sans-serif" font-size="6.38">0</tspan>.2</text>
<text x="298.66 302.04 305.41" y="383.90" font-size="6.38" text-anchor="middle" fill="#111" stroke="#111" stroke-width="0.1" ><tspan font-family="Noto Sans Mono CJK SC, Liberation Sans, sans-serif" font-size="6.38">0</tspan>.3</text>
<text x="298.66 302.04 305.41" y="344.20" font-size="6.38" text-anchor="middle" fill="#111" stroke="#111" stroke-width="0.1" ><tspan font-family="Noto Sans Mono CJK SC, Liberation Sans, sans-serif" font-size="6.38">0</tspan>.4</text>
<text x="298.66 302.04 305.41" y="304.50" font-size="6.38" text-anchor="middle" fill="#111" stroke="#111" stroke-width="0.1" ><tspan font-family="Noto Sans Mono CJK SC, Liberation Sans, sans-serif" font-size="6.38">0</tspan>.5</text>
<path d="M322.00,508.4v2.8M337.19,508.4v2.8M352.38,508.4v2.8M367.57,508.4v2.8M382.76,508.4v2.8M397.95,508.4v2.8M413.14,508.4v2.8M428.33,508.4v2.8M443.52,508.4v2.8M458.71,508.4v2.8M473.90,508.4v2.8M489.09,508.4v2.8M504.28,508.4v2.8M519.47,508.4v2.8M534.66,508.4v2.8M311.7,500.80h-2.8M311.7,461.10h-2.8M311.7,421.40h-2.8M311.7,381.70h-2.8M311.7,342.00h-2.8M311.7,302.30h-2.8" stroke="#000" stroke-width="0.7" fill="none"/>
<rect x="316.2" y="295.5" width="64.7" height="30.5" rx="2" fill="#fff" fill-opacity="0.8" stroke="#ccc" stroke-opacity="0.8" stroke-width="0.8"/>
<path d="M319.8,303.7h22.3" stroke="#1f77b4" stroke-width="1.35"/>
<path d="M319.8,317.3h22.3" stroke="#ff7f0e" stroke-width="1.35"/>
<text x="352.00 357.20 362.40" y="307.30" font-size="9.83" text-anchor="middle" fill="#000" stroke="#000" stroke-width="0.2" >GRU</text>
<text x="352.00 357.20 362.40 367.60 372.80" y="320.90" font-size="9.83" text-anchor="middle" fill="#000" stroke="#000" stroke-width="0.2" >RSTPM</text>
<text x="330.69 336.61 342.54 348.46 354.39 360.31 366.24 372.16 378.09 384.01 389.94 395.86 401.79 407.71 413.64 419.56 425.49 431.41 437.34 443.26 449.19 455.11 461.04 466.96 472.89 478.81 484.74 490.66 496.59 502.51 508.44 514.36 520.29 526.21" y="286.05" font-size="11.20" text-anchor="middle" fill="#000" stroke="#000" stroke-width="0.25" >Distance error with time iteration</text>
<text x="375.95 381.20 386.45 391.70 396.95 402.20 407.45 412.70 417.95 423.20 428.45 433.70 438.95 444.20 449.45 454.70 459.95 465.20 470.45 475.70 480.95" y="527.80" font-size="9.92" text-anchor="middle" fill="#000" stroke="#000" stroke-width="0.2" >Predicted time/minute</text>
<text x="-42.00 -36.75 -31.50 -26.25 -21.00 -15.75 -10.50 -5.25 0.00 5.25 10.50 15.75 21.00 26.25 31.50 36.75 42.00" y="0.00" font-size="9.92" text-anchor="middle" fill="#000" stroke="#000" stroke-width="0.2" transform="translate(289.4,399.54999999999995) rotate(-90)">Distance error/km</text>
<g clip-path="url(#c2)">
<rect x="35.2" y="290.4" width="223.8" height="218" fill="#465c35"/>
<rect x="35.2" y="290.4" width="223.8" height="218" filter="url(#land2)"/>
<rect x="35.2" y="290.4" width="223.8" height="218" filter="url(#lfd)" opacity="0.55"/>
<rect x="35.2" y="290.4" width="223.8" height="218" filter="url(#lfl)" opacity="0.5"/>
<g filter="url(#b2)">
<polygon points="198.0,358.0 200.0,352.0 262.0,345.0 262.0,445.0 240.0,445.0 236.0,430.0 224.0,414.0 207.0,398.0 198.0,380.0" fill="#64824b" opacity="0.8"/>
<polygon points="40.0,440.0 62.0,415.0 90.0,400.0 130.0,398.0 165.0,415.0 190.0,440.0 204.0,480.0 206.0,511.0 33.0,511.0 33.0,450.0" fill="#6f8a50" opacity="0.18"/>
<polygon points="33.0,288.0 150.0,288.0 150.0,345.0 120.0,350.0 77.0,366.0 33.0,384.0" fill="#1c3a1e" opacity="0.38"/>
<polygon points="33.0,390.0 77.0,372.0 120.0,357.0 150.0,354.0 150.0,364.0 120.0,363.0 77.0,378.0 33.0,396.0" fill="#8a9474" opacity="0.5"/>
<polygon points="232.0,500.0 242.0,455.0 238.0,435.0 262.0,440.0 262.0,510.0" fill="#6a8450" opacity="0.55"/>
</g>
<path d="M33.0,391.8C36.8,390.4 48.2,386.5 55.5,383.6C62.8,380.7 69.8,377.5 77.0,374.6C84.2,371.7 91.3,368.8 98.5,366.3C105.7,363.8 113.1,361.5 120.0,359.8C126.9,358.1 136.7,356.9 140.0,356.3" fill="none" stroke="#a3aa8c" stroke-width="3.2" opacity="0.55"/>
<rect x="136.5" y="356.8" width="1" height="1" fill="#b9bdb0" opacity="0.55"/>
<rect x="45.5" y="380.0" width="1.5" height="1.5" fill="#b9bdb0" opacity="0.55"/>
<rect x="73.8" y="369.6" width="2" height="2" fill="#d8d9d2" opacity="0.7"/>
<rect x="62.9" y="372.8" width="2" height="1.5" fill="#b9bdb0" opacity="0.7"/>
<rect x="132.5" y="353.0" width="1.5" height="2" fill="#a89f8c" opacity="0.7"/>
<rect x="47.9" y="381.3" width="2" height="2" fill="#d8d9d2" opacity="0.85"/>
<rect x="104.6" y="360.8" width="1" height="2" fill="#c9cdc4" opacity="0.55"/>
<rect x="54.0" y="382.6" width="1" height="1.5" fill="#a89f8c" opacity="0.55"/>
<rect x="128.7" y="357.4" width="1" height="2" fill="#c9cdc4" opacity="0.55"/>
<rect x="86.9" y="363.2" width="3" height="1.5" fill="#a89f8c" opacity="0.85"/>
<rect x="63.2" y="375.5" width="3" height="1.5" fill="#c9cdc4" opacity="0.55"/>
<rect x="71.0" y="375.6" width="2" height="2" fill="#a89f8c" opacity="0.7"/>
<rect x="127.0" y="351.5" width="2" height="2" fill="#b9bdb0" opacity="0.55"/>
<rect x="107.6" y="360.0" width="1" height="1.5" fill="#c9cdc4" opacity="0.7"/>
<rect x="46.4" y="382.9" width="1" height="1.5" fill="#b9bdb0" opacity="0.7"/>
<rect x="96.5" y="359.2" width="2.5" height="1" fill="#c9cdc4" opacity="0.7"/>
<rect x="124.4" y="353.9" width="2.5" height="1" fill="#a89f8c" opacity="0.85"/>
<rect x="112.1" y="356.1" width="3" height="1" fill="#c9cdc4" opacity="0.7"/>
<rect x="115.4" y="353.7" width="2.5" height="1.5" fill="#c9cdc4" opacity="0.85"/>
<rect x="133.5" y="354.7" width="2.5" height="1.5" fill="#c9cdc4" opacity="0.7"/>
<rect x="129.3" y="350.1" width="1" height="1.5" fill="#a89f8c" opacity="0.85"/>
<rect x="40.3" y="386.9" width="2.5" height="1.5" fill="#d8d9d2" opacity="0.55"/>
<rect x="108.4" y="360.5" width="2" height="1" fill="#d8d9d2" opacity="0.85"/>
<rect x="62.5" y="372.3" width="1.5" height="1" fill="#a89f8c" opacity="0.7"/>
<rect x="127.5" y="350.8" width="2" height="1" fill="#d8d9d2" opacity="0.7"/>
<rect x="85.8" y="365.7" width="3" height="2" fill="#c9cdc4" opacity="0.7"/>
<rect x="132.8" y="352.3" width="1" height="1" fill="#a89f8c" opacity="0.55"/>
<rect x="105.6" y="359.0" width="3" height="1.5" fill="#d8d9d2" opacity="0.7"/>
<rect x="63.4" y="375.3" width="3" height="1" fill="#a89f8c" opacity="0.85"/>
<rect x="55.6" y="377.2" width="2" height="2" fill="#a89f8c" opacity="0.55"/>
<rect x="67.2" y="377.5" width="2" height="1.5" fill="#b9bdb0" opacity="0.55"/>
<rect x="86.6" y="361.9" width="3" height="1" fill="#c9cdc4" opacity="0.55"/>
<rect x="104.6" y="362.6" width="1" height="2" fill="#b9bdb0" opacity="0.55"/>
<rect x="72.2" y="371.1" width="1" height="1.5" fill="#a89f8c" opacity="0.55"/>
<rect x="82.0" y="364.8" width="2" height="1" fill="#b9bdb0" opacity="0.7"/>
<rect x="139.7" y="348.1" width="2.5" height="1" fill="#a89f8c" opacity="0.55"/>
<rect x="82.3" y="364.2" width="1.5" height="1" fill="#a89f8c" opacity="0.7"/>
<rect x="80.5" y="367.4" width="1" height="1" fill="#a89f8c" opacity="0.7"/>
<rect x="43.0" y="384.1" width="2.5" height="1.5" fill="#a89f8c" opacity="0.7"/>
<rect x="120.6" y="356.1" width="3" height="1" fill="#b9bdb0" opacity="0.85"/>
<rect x="135.4" y="353.1" width="2.5" height="1.5" fill="#a89f8c" opacity="0.85"/>
<rect x="48.5" y="378.5" width="1.5" height="2" fill="#c9cdc4" opacity="0.85"/>
<rect x="79.9" y="370.5" width="2.5" height="1.5" fill="#b9bdb0" opacity="0.7"/>
<rect x="130.1" y="356.9" width="1.5" height="1.5" fill="#b9bdb0" opacity="0.85"/>
<rect x="66.0" y="376.6" width="2.5" height="1" fill="#b9bdb0" opacity="0.7"/>
<g filter="url(#b05)">
<path d="M33.0,393.8C36.8,392.4 48.2,388.5 55.5,385.6C62.8,382.7 69.8,379.5 77.0,376.6C84.2,373.7 91.3,370.8 98.5,368.3C105.7,365.8 113.9,363.3 120.0,361.8C126.1,360.3 128.3,360.2 135.0,359.3C141.7,358.4 151.7,356.8 160.0,356.5C168.3,356.2 179.2,356.6 185.0,357.5C190.8,358.4 192.8,359.9 194.5,362.0C196.2,364.1 195.2,367.5 195.0,370.0C194.8,372.5 193.4,374.2 193.5,377.0C193.6,379.8 194.5,383.9 195.5,387.0C196.5,390.1 197.1,392.8 199.5,395.5C201.9,398.2 206.4,400.0 210.2,403.3C214.0,406.6 218.7,411.0 222.3,415.5C226.0,420.0 229.7,424.8 232.1,430.1C234.5,435.4 236.1,441.9 236.9,447.1C237.7,452.4 237.3,457.0 236.9,461.6C236.5,466.2 235.5,469.6 234.5,475.0C233.5,480.4 232.0,487.9 231.0,493.9C230.0,499.9 228.9,508.1 228.5,511.0L209.5,511.0C209.2,507.1 208.7,493.4 208.0,487.4C207.3,481.4 206.2,479.3 205.3,475.0C204.5,470.7 204.3,466.1 202.9,461.6C201.5,457.1 199.2,452.3 197.0,448.0C194.8,443.7 192.5,440.4 190.0,436.0C187.5,431.6 185.3,424.9 182.2,421.5C179.1,418.1 175.1,417.9 171.3,415.5C167.5,413.1 163.6,409.6 159.2,407.0C154.8,404.4 149.5,401.7 144.6,399.7C139.7,397.7 134.1,395.8 130.0,394.8C125.9,393.9 125.0,394.1 120.0,394.0C115.0,393.9 105.0,394.2 100.0,394.5C95.0,394.8 93.7,394.5 89.9,395.5C86.1,396.5 81.7,398.0 77.0,400.4C72.3,402.8 66.9,406.2 61.9,410.0C56.9,413.8 51.7,418.2 46.9,422.9C42.1,427.6 35.3,435.5 33.0,438.0Z" fill="url(#rv2)"/>
<path d="M78.0,376.6C80.8,374.0 91.5,370.9 98.5,368.5C105.5,366.1 113.9,363.5 120.0,362.0C126.1,360.5 129.7,360.2 135.0,359.6C140.3,359.0 149.5,357.4 152.0,358.5C154.5,359.6 151.0,363.5 150.0,366.0C149.0,368.5 151.0,372.0 146.0,373.5C141.0,375.0 127.9,374.0 120.0,375.0C112.1,376.0 104.8,378.0 98.5,379.5C92.2,381.0 85.4,384.5 82.0,384.0C78.6,383.5 75.2,379.2 78.0,376.6Z" fill="#6a8e64" opacity="0.9"/>
<path d="M142.2,371.7C143.0,369.9 147.1,366.2 151.9,364.4C156.8,362.6 165.2,361.2 171.3,360.8C177.4,360.4 184.2,360.8 188.3,362.0C192.4,363.2 194.9,365.7 195.6,368.1C196.3,370.5 192.7,373.6 192.5,376.6C192.3,379.6 193.5,383.3 194.4,386.3C195.3,389.3 196.2,392.4 198.0,394.8C199.8,397.2 205.4,400.8 205.0,401.0C204.6,401.2 198.8,397.8 195.6,396.0C192.4,394.2 189.6,392.0 185.9,390.0C182.2,388.0 178.1,385.7 173.7,383.9C169.2,382.1 163.6,380.4 159.2,379.0C154.8,377.6 149.8,376.6 147.0,375.4C144.2,374.2 141.4,373.5 142.2,371.7Z" fill="#b1ac8c" />
<path d="M182.2,420.3C183.2,419.7 187.8,421.2 190.8,422.8C193.9,424.4 197.7,427.3 200.5,430.1C203.3,432.9 205.8,436.6 207.8,439.8C209.8,443.0 211.6,446.3 212.6,449.5C213.6,452.7 214.4,456.6 213.8,459.2C213.2,461.8 210.6,465.3 209.0,465.3C207.4,465.3 205.9,462.2 204.1,459.2C202.3,456.2 200.2,451.2 198.0,447.1C195.8,443.1 193.0,438.3 190.8,434.9C188.6,431.4 186.1,428.8 184.7,426.4C183.3,424.0 181.2,420.9 182.2,420.3Z" fill="#b0ae8a" />
<path d="M35.0,440.0C37.2,437.6 43.3,430.1 48.0,425.5C52.7,420.9 58.0,416.2 63.0,412.5C68.0,408.8 73.3,405.4 78.0,403.0C82.7,400.6 85.7,399.0 91.0,398.0C96.3,397.0 103.5,396.9 110.0,397.0C116.5,397.1 124.0,397.4 130.0,398.5C136.0,399.6 141.0,401.4 146.0,403.5C151.0,405.6 155.7,408.3 160.0,411.0C164.3,413.7 168.3,416.8 172.0,419.5C175.7,422.2 179.2,423.6 182.0,427.0C184.8,430.4 186.7,435.2 189.0,440.0C191.3,444.8 194.0,451.0 196.0,456.0C198.0,461.0 199.7,465.0 201.0,470.0C202.3,475.0 203.3,479.3 204.0,486.0C204.7,492.7 204.8,506.0 205.0,510.0" fill="none" stroke="#a9a582" stroke-width="0.9" opacity="0.6"/>
<path d="M243,462 L249,477 L258,488 M242,470 L236,480 L233,497 M240,425 L250,432 L259,431 M246,446 L252,452 L259,452" fill="none" stroke="#a39a78" stroke-width="0.8" opacity="0.6"/>
<path d="M104.9,422.9C106.3,422.2 109.6,426.9 111.4,429.4C113.2,431.9 112.8,436.2 115.7,438.0C118.6,439.8 126.8,438.0 128.6,440.1C130.4,442.2 128.9,448.8 126.4,450.9C123.9,453.0 116.4,451.6 113.5,453.0C110.6,454.4 111.7,457.7 109.2,459.5C106.7,461.3 101.7,462.4 98.5,463.8C95.3,465.2 92.1,466.0 89.9,468.1C87.8,470.2 87.0,476.7 85.6,476.7C84.2,476.7 83.4,469.9 81.3,468.1C79.2,466.3 75.6,466.6 72.7,465.9C69.8,465.2 65.9,465.2 64.1,463.8C62.3,462.4 60.5,458.7 61.9,457.3C63.3,455.9 69.1,455.2 72.7,455.2C76.3,455.2 80.5,458.0 83.4,457.3C86.3,456.6 87.8,452.7 89.9,450.9C92.1,449.1 95.2,448.8 96.3,446.6C97.4,444.5 95.2,440.1 96.3,438.0C97.4,435.9 101.4,436.2 102.8,433.7C104.2,431.2 103.5,423.6 104.9,422.9Z" fill="#568256" opacity="0.9"/>
<path d="M149.0,457.0C147.1,457.8 143.8,457.7 141.5,459.5C139.2,461.3 135.9,464.4 135.0,468.0C134.1,471.6 136.7,477.8 136.0,481.0C135.3,484.2 133.4,485.0 130.7,487.5C128.0,490.0 122.1,493.5 120.0,496.0C117.9,498.5 116.8,501.0 118.0,502.5C119.2,504.0 123.3,505.9 127.0,505.0C130.7,504.1 136.2,499.5 140.0,497.0C143.8,494.5 147.2,492.8 150.0,490.0C152.8,487.2 155.7,484.2 157.0,480.0C158.3,475.8 158.7,469.2 158.0,465.0C157.3,460.8 154.5,456.3 153.0,455.0C151.5,453.7 150.9,456.2 149.0,457.0Z" fill="#2a6637" />
</g>
<rect x="35.2" y="290.4" width="223.8" height="218" filter="url(#wn)" opacity="0.06"/>
</g>
<path d="M43.50,290.4V508.4M35.2,302.10H259.0M80.48,290.4V508.4M35.2,339.05H259.0M117.46,290.4V508.4M35.2,376.00H259.0M154.44,290.4V508.4M35.2,412.95H259.0M191.42,290.4V508.4M35.2,449.90H259.0M228.40,290.4V508.4M35.2,486.85H259.0" stroke="#b0b0b0" stroke-width="0.8" stroke-opacity="0.68" fill="none"/>
<g clip-path="url(#c2)">
<circle cx="38.2" cy="407.6" r="2.2" fill="#000"/>
<circle cx="45.8" cy="402.8" r="2.2" fill="#000"/>
<circle cx="53.6" cy="399.1" r="2.2" fill="#000"/>
<circle cx="61.4" cy="395.6" r="2.2" fill="#000"/>
<circle cx="69.6" cy="392.7" r="2.2" fill="#000"/>
<circle cx="77.8" cy="389.8" r="2.2" fill="#000"/>
<circle cx="86.0" cy="388.2" r="2.2" fill="#000"/>
<circle cx="94.6" cy="386.7" r="2.3" fill="#f00"/>
<circle cx="102.6" cy="385.4" r="2.3" fill="#f00"/>
<circle cx="110.9" cy="384.8" r="2.3" fill="#f00"/>
<circle cx="119.2" cy="384.5" r="2.3" fill="#f00"/>
<circle cx="127.2" cy="385.2" r="2.3" fill="#f00"/>
<circle cx="135.3" cy="386.2" r="2.3" fill="#f00"/>
<circle cx="143.4" cy="387.7" r="2.3" fill="#f00"/>
<circle cx="150.8" cy="389.5" r="2.3" fill="#f00"/>
<circle cx="157.9" cy="392.3" r="2.3" fill="#f00"/>
<circle cx="165.1" cy="395.5" r="2.3" fill="#f00"/>
<circle cx="172.1" cy="398.8" r="2.3" fill="#f00"/>
<circle cx="179.0" cy="402.3" r="2.3" fill="#f00"/>
<circle cx="185.7" cy="406.1" r="2.3" fill="#f00"/>
<circle cx="192.5" cy="410.3" r="2.3" fill="#f00"/>
<circle cx="199.5" cy="415.0" r="2.3" fill="#f00"/>
<circle cx="94.5" cy="386.5" r="1.7" fill="#ff0"/>
<circle cx="103.0" cy="385.2" r="1.7" fill="#ff0"/>
<circle cx="111.9" cy="384.8" r="1.7" fill="#ff0"/>
<circle cx="120.5" cy="385.2" r="1.7" fill="#ff0"/>
<circle cx="129.0" cy="385.4" r="1.7" fill="#ff0"/>
<circle cx="137.4" cy="386.8" r="1.7" fill="#ff0"/>
<circle cx="144.9" cy="388.4" r="1.7" fill="#ff0"/>
<circle cx="152.4" cy="391.1" r="1.7" fill="#ff0"/>
<circle cx="159.4" cy="393.6" r="1.7" fill="#ff0"/>
<circle cx="166.3" cy="396.5" r="1.7" fill="#ff0"/>
<circle cx="173.3" cy="399.7" r="1.7" fill="#ff0"/>
<circle cx="180.0" cy="403.3" r="1.7" fill="#ff0"/>
<circle cx="187.0" cy="407.1" r="1.7" fill="#ff0"/>
<circle cx="193.4" cy="410.9" r="1.7" fill="#ff0"/>
<circle cx="199.7" cy="415.3" r="1.7" fill="#ff0"/>
<circle cx="94.9" cy="387.2" r="1.85" fill="#00f"/>
<circle cx="103.5" cy="386.5" r="1.85" fill="#00f"/>
<circle cx="112.2" cy="386.2" r="1.85" fill="#00f"/>
<circle cx="120.8" cy="386.5" r="1.85" fill="#00f"/>
<circle cx="129.1" cy="387.5" r="1.85" fill="#00f"/>
<circle cx="137.4" cy="389.0" r="1.85" fill="#00f"/>
<circle cx="145.6" cy="391.5" r="1.85" fill="#00f"/>
<circle cx="153.4" cy="394.0" r="1.85" fill="#00f"/>
<circle cx="161.5" cy="396.5" r="1.85" fill="#00f"/>
<circle cx="169.2" cy="400.4" r="1.85" fill="#00f"/>
<circle cx="176.8" cy="404.2" r="1.85" fill="#00f"/>
<circle cx="184.2" cy="408.3" r="1.85" fill="#00f"/>
<circle cx="191.5" cy="412.8" r="1.85" fill="#00f"/>
<circle cx="198.7" cy="417.5" r="1.85" fill="#00f"/>
<circle cx="205.1" cy="422.6" r="1.85" fill="#00f"/>
</g>
<rect x="35.2" y="290.4" width="223.8" height="218" fill="none" stroke="#2a2a2a" stroke-width="0.75"/>
<rect x="105.6" y="296.0" width="148" height="58.0" rx="2" fill="#fff" fill-opacity="0.8" stroke="#ccc" stroke-opacity="0.8" stroke-width="0.8"/>
<circle cx="120" cy="303.5" r="2.1" fill="#f00"/>
<text x="141.84 147.12 152.40 157.68 162.96 168.24 173.52 178.80 184.08 189.36 194.64 199.92" y="307.50" font-size="9.98" text-anchor="middle" fill="#000" stroke="#000" stroke-width="0.2" >Actual value</text>
<circle cx="120" cy="317.4" r="1.6" fill="#ff0"/>
<text x="141.84 147.12 152.40 157.68 162.96 168.24 173.52 178.80 184.08 189.36 194.64 199.92 205.20 210.48 215.76 221.04 226.32 231.60 236.88 242.16 247.44" y="321.40" font-size="9.98" text-anchor="middle" fill="#000" stroke="#000" stroke-width="0.2" >RSTPM predicted value</text>
<circle cx="120" cy="331.2" r="1.6" fill="#00f"/>
<text x="141.84 147.12 152.40 157.68 162.96 168.24 173.52 178.80 184.08 189.36 194.64 199.92 205.20 210.48 215.76 221.04 226.32 231.60 236.88" y="335.20" font-size="9.98" text-anchor="middle" fill="#000" stroke="#000" stroke-width="0.2" >GRU predicted value</text>
<circle cx="120" cy="345" r="2.1" fill="#000"/>
<text x="141.84 147.12 152.40 157.68 162.96 168.24 173.52 178.80 184.08 189.36 194.64 199.92 205.20 210.48 215.76 221.04" y="349.00" font-size="9.98" text-anchor="middle" fill="#000" stroke="#000" stroke-width="0.2" >Historical value</text>
<path d="M43.50,508.4v2.8M35.2,302.10h-2.8M80.48,508.4v2.8M35.2,339.05h-2.8M117.46,508.4v2.8M35.2,376.00h-2.8M154.44,508.4v2.8M35.2,412.95h-2.8M191.42,508.4v2.8M35.2,449.90h-2.8M228.40,508.4v2.8M35.2,486.85h-2.8" stroke="#000" stroke-width="0.7" fill="none"/>
<text x="35.06 38.44 41.81 45.19 48.56 51.94" y="517.70" font-size="6.38" text-anchor="middle" fill="#111" stroke="#111" stroke-width="0.1" >114.74</text>
<text x="72.04 75.42 78.79 82.17 85.54 88.92" y="517.70" font-size="6.38" text-anchor="middle" fill="#111" stroke="#111" stroke-width="0.1" >114.76</text>
<text x="109.02 112.40 115.77 119.15 122.52 125.90" y="517.70" font-size="6.38" text-anchor="middle" fill="#111" stroke="#111" stroke-width="0.1" >114.78</text>
<text x="146.00 149.38 152.75 156.13 159.50 162.88" y="517.70" font-size="6.38" text-anchor="middle" fill="#111" stroke="#111" stroke-width="0.1" >114.8<tspan font-family="Noto Sans Mono CJK SC, Liberation Sans, sans-serif" font-size="6.38">0</tspan></text>
<text x="182.98 186.36 189.73 193.11 196.48 199.86" y="517.70" font-size="6.38" text-anchor="middle" fill="#111" stroke="#111" stroke-width="0.1" >114.82</text>
<text x="219.96 223.34 226.71 230.09 233.46 236.84" y="517.70" font-size="6.38" text-anchor="middle" fill="#111" stroke="#111" stroke-width="0.1" >114.84</text>
<text x="15.91 19.29 22.66 26.04 29.41" y="304.30" font-size="6.38" text-anchor="middle" fill="#111" stroke="#111" stroke-width="0.1" >3<tspan font-family="Noto Sans Mono CJK SC, Liberation Sans, sans-serif" font-size="6.38">0</tspan>.66</text>
<text x="15.91 19.29 22.66 26.04 29.41" y="341.25" font-size="6.38" text-anchor="middle" fill="#111" stroke="#111" stroke-width="0.1" >3<tspan font-family="Noto Sans Mono CJK SC, Liberation Sans, sans-serif" font-size="6.38">0</tspan>.64</text>
<text x="15.91 19.29 22.66 26.04 29.41" y="378.20" font-size="6.38" text-anchor="middle" fill="#111" stroke="#111" stroke-width="0.1" >3<tspan font-family="Noto Sans Mono CJK SC, Liberation Sans, sans-serif" font-size="6.38">0</tspan>.62</text>
<text x="15.91 19.29 22.66 26.04 29.41" y="415.15" font-size="6.38" text-anchor="middle" fill="#111" stroke="#111" stroke-width="0.1" >3<tspan font-family="Noto Sans Mono CJK SC, Liberation Sans, sans-serif" font-size="6.38">0</tspan>.6<tspan font-family="Noto Sans Mono CJK SC, Liberation Sans, sans-serif" font-size="6.38">0</tspan></text>
<text x="15.91 19.29 22.66 26.04 29.41" y="452.10" font-size="6.38" text-anchor="middle" fill="#111" stroke="#111" stroke-width="0.1" >3<tspan font-family="Noto Sans Mono CJK SC, Liberation Sans, sans-serif" font-size="6.38">0</tspan>.58</text>
<text x="15.91 19.29 22.66 26.04 29.41" y="489.05" font-size="6.38" text-anchor="middle" fill="#111" stroke="#111" stroke-width="0.1" >3<tspan font-family="Noto Sans Mono CJK SC, Liberation Sans, sans-serif" font-size="6.38">0</tspan>.56</text>
<text x="126.00 131.25 136.50 141.75 147.00 152.25 157.50 162.75 168.00" y="528.40" font-size="9.92" text-anchor="middle" fill="#000" stroke="#000" stroke-width="0.2" >Longitude</text>
<text x="-18.38 -13.12 -7.88 -2.62 2.62 7.88 13.12 18.38" y="0.00" font-size="9.92" text-anchor="middle" fill="#000" stroke="#000" stroke-width="0.2" transform="translate(11.1,400) rotate(-90)">Latitude</text>
<text x="5.96 11.89 17.81 23.74 29.66 35.59 41.51 47.44 53.36 59.29 65.21 71.14 77.06 82.99 88.91 94.84 100.76 106.69 112.61 118.54 124.46 130.39 136.31 142.24 148.16 154.09 160.01 165.94 171.86 177.79 183.71 189.64 195.56 201.49 207.41 213.34 219.26 225.19 231.11 237.04 242.96 248.89 254.81 260.74 266.66 272.59 278.51 284.44 290.36" y="286.05" font-size="11.20" text-anchor="middle" fill="#000" stroke="#000" stroke-width="0.25" >MMSI:413819268 Predict the position of 3<tspan font-family="Noto Sans Mono CJK SC, Liberation Sans, sans-serif" font-size="11.20">0</tspan> minutes</text>
</svg></body></html>
